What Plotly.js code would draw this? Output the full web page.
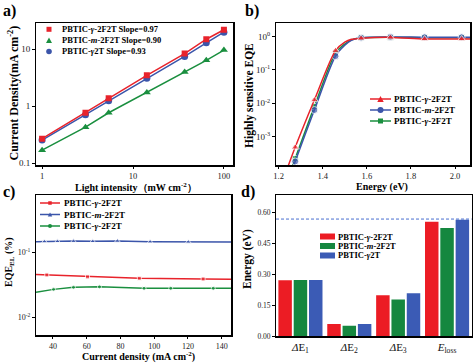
<!DOCTYPE html>
<html><head><meta charset="utf-8">
<script src="https://cdn.plot.ly/plotly-3.0.1.min.js"></script>
<style>html,body{margin:0;padding:0;background:#fff}</style>
</head><body><div id="chart" style="width:474px;height:363px"></div>
<script>
// ---------- Panel a: light-intensity dependence ----------
const lightIntensity = [1, 3.0, 5.4, 14.2, 37, 64, 100];
const jscGamma2F2T = [0.27, 0.77, 1.38, 3.5, 8.4, 15, 22];
const jscM2F2T = [0.17, 0.43, 0.77, 1.75, 4.0, 6.4, 9.7];
const jscGamma2T = [0.255, 0.71, 1.25, 3.1, 7.5, 13, 20];
const legendA = ['PBTIC-<i>γ</i>-2F2T Slope=0.97', 'PBTIC-<i>m</i>-2F2T Slope=0.90', 'PBTIC-<i>γ</i>2T Slope=0.93'];
const ticksA_x = [1, 10, 100];
const ticksA_y = [0.1, 1, 10];

// ---------- Panel b: highly sensitive EQE ----------
const energyB = [1.22, 1.275, 1.362, 1.458, 1.50, 1.53, 1.574, 1.707, 1.862, 2.03, 2.07];
const eqeBGamma2F2T = [5e-5, 4.8e-4, 0.0126, 0.38, 0.68, 0.83, 0.89, 0.95, 0.85, 0.85, 0.85];
const eqeBM2F2T = [1.9e-5, 1.8e-4, 0.0063, 0.26, 0.55, 0.78, 0.93, 0.98, 0.96, 0.96, 0.96];
const eqeBGamma2T = [2.5e-5, 2.2e-4, 0.008, 0.32, 0.60, 0.80, 0.92, 0.96, 0.93, 0.93, 0.93];
const markedB = [0, 1, 1, 1, 0, 0, 1, 1, 1, 1, 0];
const legendB = ['PBTIC-<i>γ</i>-2F2T', 'PBTIC-<i>m</i>-2F2T', 'PBTIC-<i>γ</i>-2F2T'];
const ticksB_y = [1e-3, 1e-2, 1e-1, 1];
const tickTextB_y = ['10<sup>-3</sup>', '10<sup>-2</sup>', '10<sup>-1</sup>', '10<sup>0</sup>'];

// ---------- Panel c: EQE_EL vs current density ----------
const currentRed = [30, 36.4, 60.5, 91.2, 129, 145.5];
const eqeElRed = [0.0457, 0.045, 0.042, 0.040, 0.039, 0.0387];
const markedRed = [0, 1, 1, 1, 1, 0];
const currentBlue = [30, 35, 42.7, 52.2, 63.6, 78.2, 97.6, 120.2, 145.5];
const eqeElBlue = [0.146, 0.147, 0.148, 0.149, 0.148, 0.150, 0.146, 0.145, 0.145];
const markedBlue = [0, 1, 1, 1, 1, 1, 1, 1, 0];
const currentGreen = [30, 40.4, 52.2, 67.6, 94, 109.8, 135, 145.5];
const eqeElGreen = [0.0243, 0.027, 0.029, 0.0295, 0.028, 0.028, 0.028, 0.028];
const markedGreen = [0, 1, 1, 1, 1, 1, 1, 0];
const legendC = ['PBTIC-<i>γ</i>-2F2T', 'PBTIC-<i>m</i>-2F2T', 'PBTIC-<i>γ</i>-2F2T'];
const ticksC_y = [0.01, 0.1];
const tickTextC_y = ['10<sup>-2</sup>', '10<sup>-1</sup>'];

// ---------- Panel d: energy loss ----------
const lossCategories = ['<i>Δ</i>E<sub>1</sub>', '<i>Δ</i>E<sub>2</sub>', '<i>Δ</i>E<sub>3</sub>', '<i>E</i><sub>loss</sub>'];
const lossGamma2F2T = [0.271, 0.058, 0.198, 0.556];
const lossM2F2T = [0.272, 0.050, 0.177, 0.525];
const lossGamma2T = [0.272, 0.058, 0.208, 0.566];
const lossReference = 0.569;
const legendD = ['PBTIC-<i>γ</i>-2F2T', 'PBTIC-<i>m</i>-2F2T', 'PBTIC-<i>γ</i>2T'];
const ticksD_y = [0, 0.15, 0.30, 0.45, 0.60];

// ---------- styling ----------
const W = 474, H = 363;
const X = p => p / W, Y = p => 1 - p / H;
const SERIF = 'Liberation Serif, Times New Roman, serif';
const RED = '#e8232b', GREEN = '#1a8f3f', BLUE = '#3b55aa';
const BRED = '#ec1c24', BGREEN = '#15873f', BBLUE = '#3b5bb5';
const sizes = (flags, s) => flags.map(f => f ? s : 0);

const traces = [
  // a
  {x: lightIntensity, y: jscM2F2T, xaxis: 'x', yaxis: 'y', mode: 'lines+markers', line: {color: GREEN, width: 1.5}, marker: {symbol: 'triangle-up', size: 7, color: GREEN}},
  {x: lightIntensity, y: jscGamma2T, xaxis: 'x', yaxis: 'y', mode: 'lines+markers', line: {color: BLUE, width: 1.5}, marker: {symbol: 'circle', size: 7, color: BLUE}},
  {x: lightIntensity, y: jscGamma2F2T, xaxis: 'x', yaxis: 'y', mode: 'lines+markers', line: {color: RED, width: 1.5}, marker: {symbol: 'square', size: 6, color: RED}},
  // b
  {x: energyB, y: eqeBGamma2T, xaxis: 'x2', yaxis: 'y2', mode: 'lines+markers', line: {color: GREEN, width: 1.5, shape: 'spline', smoothing: 0.8}, marker: {symbol: 'square', size: sizes(markedB, 6), color: GREEN}},
  {x: energyB, y: eqeBM2F2T, xaxis: 'x2', yaxis: 'y2', mode: 'lines+markers', line: {color: BLUE, width: 1.5, shape: 'spline', smoothing: 0.8}, marker: {symbol: 'circle', size: sizes(markedB, 7), color: BLUE}},
  {x: energyB, y: eqeBGamma2F2T, xaxis: 'x2', yaxis: 'y2', mode: 'lines+markers', line: {color: RED, width: 1.5, shape: 'spline', smoothing: 0.8}, marker: {symbol: 'triangle-up', size: sizes(markedB, 7), color: RED}},
  // c
  {x: currentRed, y: eqeElRed, xaxis: 'x3', yaxis: 'y3', mode: 'lines+markers', line: {color: RED, width: 1.5}, marker: {symbol: 'square', size: sizes(markedRed, 4), color: RED}},
  {x: currentBlue, y: eqeElBlue, xaxis: 'x3', yaxis: 'y3', mode: 'lines+markers', line: {color: BLUE, width: 1.5}, marker: {symbol: 'triangle-up', size: sizes(markedBlue, 5), color: BLUE}},
  {x: currentGreen, y: eqeElGreen, xaxis: 'x3', yaxis: 'y3', mode: 'lines+markers', line: {color: GREEN, width: 1.5}, marker: {symbol: 'circle', size: sizes(markedGreen, 4), color: GREEN}},
  // d
  {type: 'bar', x: lossCategories, y: lossGamma2F2T, xaxis: 'x4', yaxis: 'y4', marker: {color: BRED}},
  {type: 'bar', x: lossCategories, y: lossM2F2T, xaxis: 'x4', yaxis: 'y4', marker: {color: BGREEN}},
  {type: 'bar', x: lossCategories, y: lossGamma2T, xaxis: 'x4', yaxis: 'y4', marker: {color: BBLUE}}
];

const axisBase = {
  showline: true, linecolor: '#000', linewidth: 1.5, mirror: true,
  ticks: 'outside', ticklen: 2.5, tickwidth: 1, tickcolor: '#000',
  showgrid: false, zeroline: false,
  tickfont: {family: SERIF, size: 9, color: '#222'}
};
const ax = o => Object.assign({}, axisBase, o);

const shapes = [];
const annotations = [];
function txt(x, y, text, size, opts) {
  annotations.push(Object.assign({xref: 'paper', yref: 'paper', x: X(x), y: Y(y), text: text, showarrow: false,
    xanchor: 'left', yanchor: 'middle', font: {family: SERIF, size: size, color: '#000', weight: 'bold'}}, opts || {}));
}
function rectS(cx, cy, w, h, c) {
  shapes.push({type: 'rect', xref: 'paper', yref: 'paper', x0: X(cx - w / 2), x1: X(cx + w / 2), y0: Y(cy + h / 2), y1: Y(cy - h / 2), fillcolor: c, line: {width: 0}});
}
function circS(cx, cy, r, c) {
  shapes.push({type: 'circle', xref: 'paper', yref: 'paper', x0: X(cx - r), x1: X(cx + r), y0: Y(cy + r), y1: Y(cy - r), fillcolor: c, line: {width: 0}});
}
function triS(cx, cy, s, c) {
  const h = s * 0.45;
  shapes.push({type: 'path', xref: 'paper', yref: 'paper',
    path: `M ${X(cx - s / 2)} ${Y(cy + h)} L ${X(cx + s / 2)} ${Y(cy + h)} L ${X(cx)} ${Y(cy - h)} Z`, fillcolor: c, line: {width: 0}});
}
function lineS(x0, x1, y, c, w) {
  shapes.push({type: 'line', xref: 'paper', yref: 'paper', x0: X(x0), x1: X(x1), y0: Y(y), y1: Y(y), line: {color: c, width: w}});
}

// panel labels
txt(1, 11, 'a)', 16); txt(243, 11, 'b)', 16); txt(1, 192, 'c)', 16); txt(239, 192, 'd)', 16);
// axis titles
txt(12.5, 93, 'Current Density(mA cm<sup>-2</sup>)', 12, {xanchor: 'center', textangle: -90});
txt(136, 186.5, 'Light intensity（mW cm<sup>-2</sup>）', 10, {xanchor: 'center'});
txt(249, 96, 'Highly sensitive EQE', 11.5, {xanchor: 'center', textangle: -90});
txt(382, 186.5, 'Energy (eV)', 10, {xanchor: 'center'});
txt(9, 262, 'EQE<sub>EL</sub> (%)', 10, {xanchor: 'center', textangle: -90});
txt(138, 356.5, 'Current density (mA cm<sup>-2</sup>)', 10, {xanchor: 'center'});
txt(247, 259, 'Energy (eV)', 11.5, {xanchor: 'center', textangle: -90});

// legend a
const rowsA = [29.3, 40.3, 51.5];
rectS(49, rowsA[0], 5, 5, RED); triS(49, rowsA[1], 6, GREEN); circS(49, rowsA[2], 2.8, BLUE);
legendA.forEach((t, i) => txt(60, rowsA[i], t, 8.5));
// legend b
const rowsB = [99, 110, 121];
lineS(370, 391, rowsB[0], RED, 1.5); triS(380.5, rowsB[0], 6.5, RED);
lineS(370, 391, rowsB[1], BLUE, 1.5); circS(380.5, rowsB[1], 3, BLUE);
lineS(370, 391, rowsB[2], GREEN, 1.5); rectS(380.5, rowsB[2], 5, 5, GREEN);
legendB.forEach((t, i) => txt(392, rowsB[i], t, 9));
// legend c
const rowsC = [203, 214.5, 226];
lineS(40, 60, rowsC[0], RED, 1.5); rectS(50, rowsC[0], 3.5, 3.5, RED);
lineS(40, 60, rowsC[1], BLUE, 1.5); triS(50, rowsC[1], 4.5, BLUE);
lineS(40, 60, rowsC[2], GREEN, 1.5); circS(50, rowsC[2], 2, GREEN);
legendC.forEach((t, i) => txt(62, rowsC[i], t, 9));
// legend d
const rowsD = [236.5, 246, 255.5];
[BRED, BGREEN, BBLUE].forEach((c, i) => rectS(327.5, rowsD[i], 15, 6, c));
legendD.forEach((t, i) => txt(336, rowsD[i], t, 8.5));

// dashed reference line in d
shapes.push({type: 'line', xref: 'x4 domain', yref: 'y4', x0: 0, x1: 1, y0: lossReference, y1: lossReference,
  line: {color: '#4a70d0', width: 1, dash: '3px,2px'}});

const tick85 = {family: SERIF, size: 8.5, color: '#222'};
const layout = {
  width: W, height: H, margin: {l: 0, r: 0, t: 0, b: 0},
  paper_bgcolor: '#fff', plot_bgcolor: '#fff', showlegend: false,
  barmode: 'group', bargap: 0.06, bargroupgap: 0.12,
  font: {family: SERIF},
  xaxis: ax({type: 'log', domain: [X(36), X(233)], anchor: 'y', range: [-0.067, 2.10], tickvals: ticksA_x, ticktext: ticksA_x.map(String), tickfont: tick85}),
  yaxis: ax({type: 'log', domain: [Y(165), Y(23.3)], anchor: 'x', range: [-1.03, 1.456], tickvals: ticksA_y, ticktext: ticksA_y.map(String)}),
  xaxis2: ax({domain: [X(276), X(470)], anchor: 'y2', range: [1.188, 2.068], tick0: 1.2, dtick: 0.2, tickformat: '.1f', tickfont: tick85}),
  yaxis2: ax({type: 'log', domain: [Y(165), Y(23.3)], anchor: 'x2', range: [-3.85, 0.40], tickvals: ticksB_y, ticktext: tickTextB_y}),
  xaxis3: ax({domain: [X(36), X(231)], anchor: 'y3', range: [30, 145.5], tick0: 40, dtick: 20, tickfont: {family: SERIF, size: 8, color: '#222'}}),
  yaxis3: ax({type: 'log', domain: [Y(335), Y(195)], anchor: 'x3', range: [-2.27, -0.118], tickvals: ticksC_y, ticktext: tickTextC_y, tickfont: {family: SERIF, size: 8, color: '#222'}}),
  xaxis4: ax({domain: [X(276), X(471.5)], anchor: 'y4', type: 'category', range: [-0.5, 3.5], ticks: '', tickfont: {family: SERIF, size: 11, color: '#111'}}),
  yaxis4: ax({domain: [Y(336), Y(195)], anchor: 'x4', range: [0, 0.686], tickvals: ticksD_y, tickformat: '.2f', tickfont: {family: SERIF, size: 7.5, color: '#222'}}),
  shapes: shapes, annotations: annotations
};

Plotly.newPlot('chart', traces, layout, {staticPlot: true, displayModeBar: false});
</script></body></html>
